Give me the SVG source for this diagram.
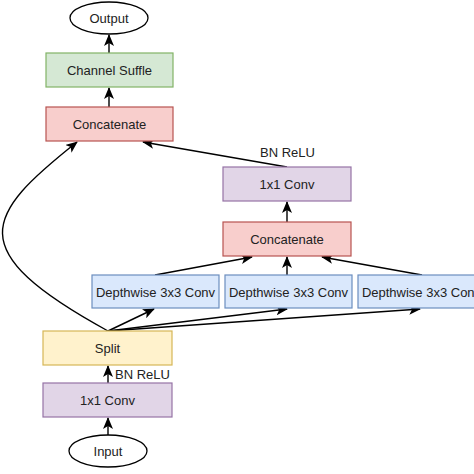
<svg xmlns="http://www.w3.org/2000/svg" width="474" height="474" viewBox="0 0 474 474">
<style>
text{font-family:"Liberation Sans",Arial,sans-serif;font-size:13px;fill:#222;}
.c{text-anchor:middle;dominant-baseline:central;}
.green{fill:#d5e8d4;stroke:#82b366;stroke-width:1.2;}
.red{fill:#f8cecc;stroke:#b85450;stroke-width:1.2;}
.purple{fill:#e1d5e7;stroke:#9673a6;stroke-width:1.2;}
.blue{fill:#dae8fc;stroke:#6c8ebf;stroke-width:1.2;}
.yellow{fill:#fff2cc;stroke:#d6b656;stroke-width:1.2;}
.ell{fill:#fff;stroke:#000;stroke-width:1.3;}
.edge{fill:none;stroke:#000;stroke-width:1.4;marker-end:url(#arr);}
</style>
<defs>
<marker id="arr" markerUnits="userSpaceOnUse" markerWidth="12" markerHeight="10" viewBox="0 0 12 10" refX="11" refY="5" orient="auto">
<path d="M0,0 L12,5 L0,10 L3,5 z" fill="#000"/>
</marker>
</defs>
<g id="connectors">
<path class="edge" d="M109,53 L109,35"/>
<path class="edge" d="M109,107 L109,88"/>
<path class="edge" d="M287,167 L143,142"/>
<path class="edge" d="M287,222 L287,202"/>
<path class="edge" d="M155,275 L252,257"/>
<path class="edge" d="M287,275 L287,257"/>
<path class="edge" d="M422,275 L322,257"/>
<path class="edge" d="M108,331 L154,309"/>
<path class="edge" d="M108,331 L287,309"/>
<path class="edge" d="M108,331 L420,309"/>
<path class="edge" d="M108,331 C-40,250 -15,215 77,142"/>
<path class="edge" d="M108,383 L108,366"/>
<path class="edge" d="M108,435 L108,418"/>
<text x="260" y="157">BN ReLU</text>
<text x="115" y="379">BN ReLU</text>
</g>
<g id="output"><ellipse class="ell" cx="109" cy="18" rx="39" ry="16"/><text class="c" x="109" y="18">Output</text></g>
<g id="channel-suffle"><rect class="green" x="46" y="53" width="127" height="34"/><text class="c" x="109.5" y="70">Channel Suffle</text></g>
<g id="concat-top"><rect class="red" x="46" y="107" width="127" height="34"/><text class="c" x="109.5" y="124">Concatenate</text></g>
<g id="conv1x1-top"><rect class="purple" x="223" y="167" width="128" height="34"/><text class="c" x="287" y="184">1x1 Conv</text></g>
<g id="concat-mid"><rect class="red" x="223" y="222" width="128" height="34"/><text class="c" x="287" y="239">Concatenate</text></g>
<g id="dw1"><rect class="blue" x="92" y="275" width="127" height="33"/><text class="c" x="155.5" y="292">Depthwise 3x3 Conv</text></g>
<g id="dw2"><rect class="blue" x="225" y="275" width="127" height="33"/><text class="c" x="288.5" y="292">Depthwise 3x3 Conv</text></g>
<g id="dw3"><rect class="blue" x="358" y="275" width="127" height="33"/><text class="c" x="421.5" y="292">Depthwise 3x3 Conv</text></g>
<g id="split"><rect class="yellow" x="43" y="331" width="129" height="34"/><text class="c" x="107.5" y="348">Split</text></g>
<g id="conv1x1-bottom"><rect class="purple" x="43" y="383" width="129" height="34"/><text class="c" x="107.5" y="400">1x1 Conv</text></g>
<g id="input"><ellipse class="ell" cx="108" cy="451" rx="39" ry="16"/><text class="c" x="108" y="451">Input</text></g>
</svg>
